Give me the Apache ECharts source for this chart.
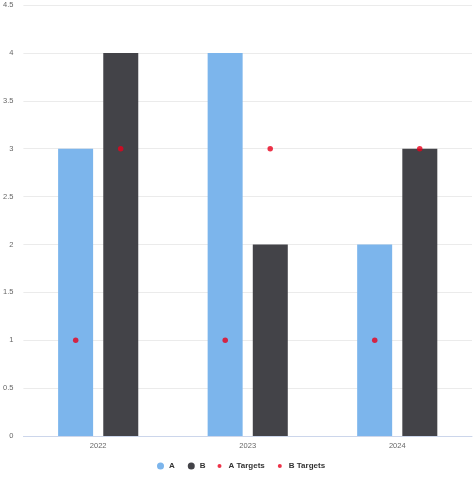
<!DOCTYPE html>
<html>
<head>
<meta charset="utf-8">
<script src="https://cdn.jsdelivr.net/npm/echarts@6/dist/echarts.min.js"></script>
<style>
    html, body { margin: 0; padding: 0; background: #fff; }
    #chart { width: 474px; height: 478px; }
</style>
</head>
<body>
<div id="chart"></div>
<script>
// 数据
let years = ['2022', '2023', '2024'];
let aValues = [3, 4, 2];
let bValues = [4, 2, 3];
let aTargets = [1, 1, 1];
let bTargets = [3, 3, 3];

let font = '"Liberation Sans", Arial, sans-serif';
let barW = 35;      // 柱宽
let shift = 22.5;   // 目标点相对类目中心的偏移

let option = {
    backgroundColor: '#fff',
    animation: false,
    grid: { left: 23, right: 2, top: 5, bottom: 42 },
    legend: [{
        left: 152, top: 457,
        itemWidth: 7, itemHeight: 7, itemGap: 13,
        icon: 'circle',
        textStyle: { color: '#333', fontSize: 8, fontWeight: 'bold', fontFamily: font },
        data: ['A', 'B']
    }, {
        left: 212.5, top: 457,
        itemWidth: 8, itemHeight: 4, itemGap: 13,
        icon: 'circle',
        textStyle: { color: '#333', fontSize: 8, fontWeight: 'bold', fontFamily: font },
        data: ['A Targets', 'B Targets']
    }],
    xAxis: {
        type: 'category',
        data: years,
        axisLine: { lineStyle: { color: '#ccd6eb' } },
        axisTick: { show: false },
        axisLabel: { color: '#666', fontSize: 7.5, fontFamily: font, margin: 6 }
    },
    yAxis: {
        type: 'value',
        min: 0, max: 4.5, interval: 0.5,
        axisLine: { show: false },
        axisTick: { show: false },
        axisLabel: { color: '#666', fontSize: 7.5, fontFamily: font, margin: 10 },
        splitLine: { lineStyle: { color: '#ebebeb' } }
    },
    series: [{
        name: 'A', type: 'bar', data: aValues,
        barWidth: barW, barGap: '29%',
        itemStyle: { color: '#7cb5ec' }
    }, {
        name: 'B', type: 'bar', data: bValues,
        barWidth: barW,
        itemStyle: { color: '#434348' }
    }, {
        name: 'A Targets', type: 'scatter', data: aTargets,
        symbol: 'circle', symbolSize: 5.5, symbolOffset: [-shift, 0],
        itemStyle: { color: '#e8001c' }, z: 5
    }, {
        name: 'B Targets', type: 'scatter', data: bTargets,
        symbol: 'circle', symbolSize: 5.5, symbolOffset: [shift, 0],
        itemStyle: { color: '#e8001c' }, z: 5
    }]
};

let chart = echarts.init(document.getElementById('chart'));
chart.setOption(option, true);
</script>
</body>
</html>
